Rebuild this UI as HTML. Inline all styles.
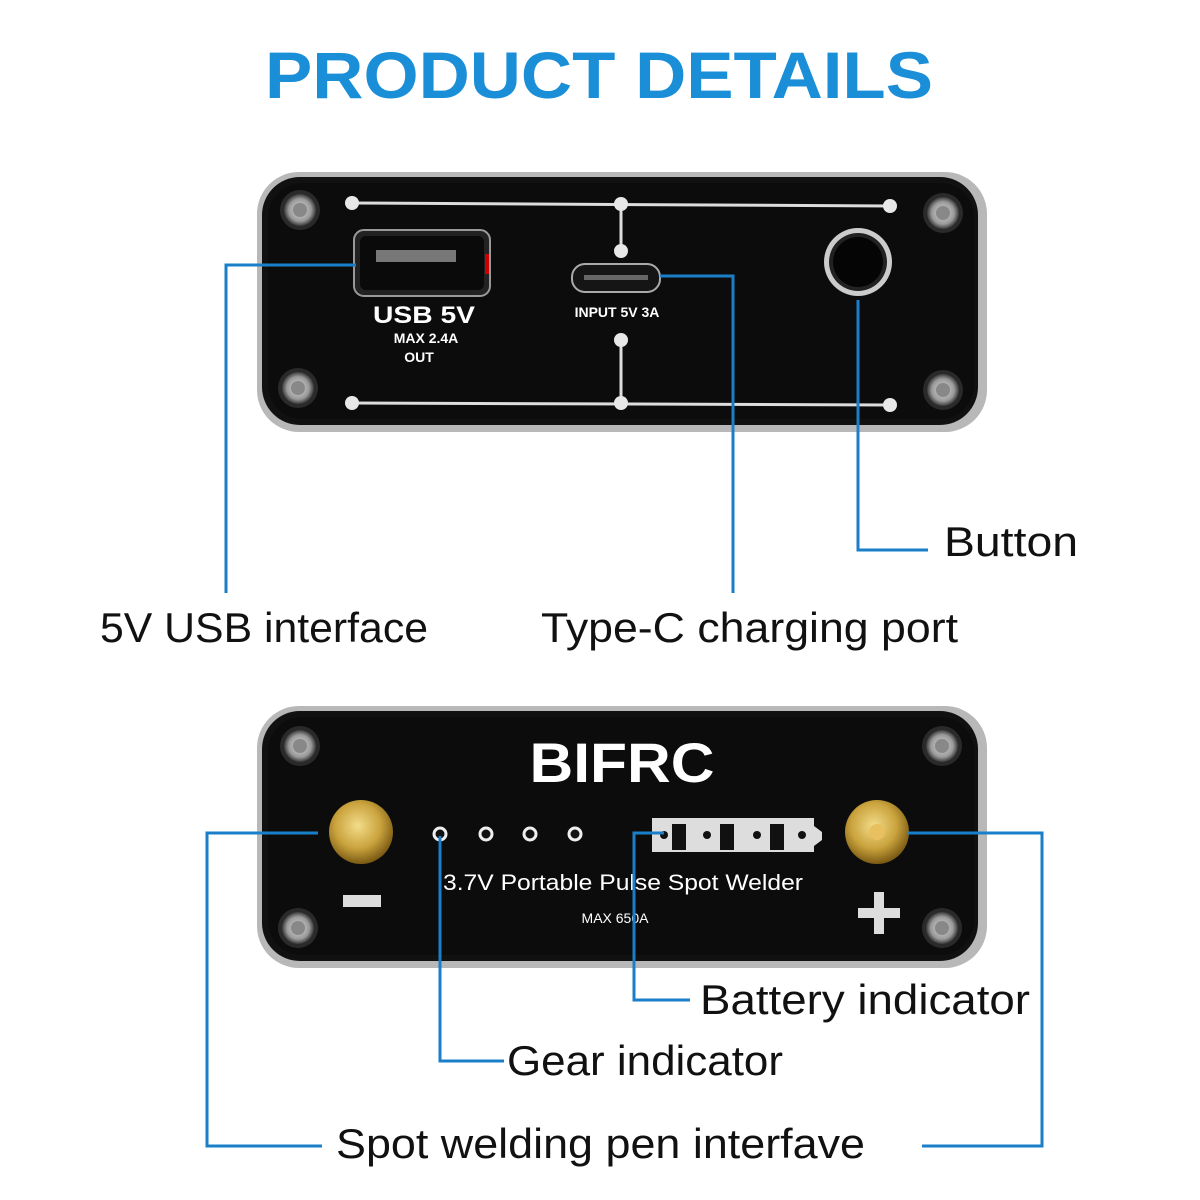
<!DOCTYPE html>
<html><head><meta charset="utf-8"><style>
html,body{margin:0;padding:0;background:#fff;}
svg{display:block;}
</style></head><body>
<svg width="1200" height="1200" viewBox="0 0 1200 1200" xmlns="http://www.w3.org/2000/svg" font-family="Liberation Sans, sans-serif">
<defs>
<radialGradient id="gold" cx="0.45" cy="0.4" r="0.6"><stop offset="0" stop-color="#f3dc8a"/><stop offset="0.6" stop-color="#c9a23c"/><stop offset="1" stop-color="#7a5a14"/></radialGradient>
<radialGradient id="screw" cx="0.5" cy="0.5" r="0.5"><stop offset="0" stop-color="#d8d8d8"/><stop offset="0.7" stop-color="#9a9a9a"/><stop offset="1" stop-color="#3a3a3a"/></radialGradient>
<g id="scr"><circle r="20" fill="#2a2a2a"/><circle r="16" fill="url(#screw)"/><circle r="7" fill="#888"/></g>
</defs>
<rect width="1200" height="1200" fill="#fff"/>
<text x="599" y="98" text-anchor="middle" font-size="66" font-weight="bold" fill="#1a8fd8" textLength="668" lengthAdjust="spacingAndGlyphs">PRODUCT DETAILS</text>

<!-- Device 1 -->
<rect x="257" y="172" width="730" height="260" rx="42" fill="#b8b8b8"/>
<rect x="262" y="177" width="716" height="248" rx="38" fill="#111"/>
<rect x="268" y="183" width="706" height="236" rx="34" fill="#0c0c0c"/>
<use href="#scr" x="300" y="210"/><use href="#scr" x="943" y="213"/>
<use href="#scr" x="298" y="388"/><use href="#scr" x="943" y="390"/>
<g stroke="#ddd" stroke-width="3"><line x1="352" y1="203" x2="890" y2="206"/><line x1="352" y1="403" x2="890" y2="405"/>
<line x1="621" y1="205" x2="621" y2="252"/><line x1="621" y1="340" x2="621" y2="403"/></g>
<g fill="#e8e8e8"><circle cx="352" cy="203" r="7"/><circle cx="621" cy="204" r="7"/><circle cx="890" cy="206" r="7"/><circle cx="621" cy="251" r="7"/><circle cx="621" cy="340" r="7"/><circle cx="352" cy="403" r="7"/><circle cx="621" cy="403" r="7"/><circle cx="890" cy="405" r="7"/></g>
<rect x="354" y="230" width="136" height="66" rx="10" fill="#222" stroke="#999" stroke-width="2"/>
<rect x="360" y="236" width="124" height="54" rx="6" fill="#0a0a0a"/>
<rect x="335" y="250" width="0" height="0"/>
<rect x="338" y="250" width="0" height="0"/>
<rect x="340" y="250" width="0" height="0"/>
<rect x="338" y="250" width="0" height="0"/>
<rect x="340" y="250" width="0" height="0"/>
<rect x="338" y="252" width="0" height="0"/>
<rect x="340" y="252" width="0" height="0"/>
<rect x="336" y="252" width="0" height="0"/>
<rect x="338" y="252" width="0" height="0"/>
<rect x="336" y="252" width="0" height="0"/>
<rect x="338" y="252" width="0" height="0"/>
<rect x="336" y="252" width="0" height="0"/>
<rect x="338" y="252" width="0" height="0"/>
<rect x="336" y="252" width="0" height="0"/>
<rect x="338" y="252" width="0" height="0"/>
<rect x="336" y="252" width="0" height="0"/>
<rect x="338" y="252" width="0" height="0"/>
<rect x="336" y="252" width="0" height="0"/>
<rect x="338" y="252" width="0" height="0"/>
<rect x="336" y="252" width="0" height="0"/>
<rect x="338" y="252" width="0" height="0"/>
<rect x="336" y="252" width="0" height="0"/>
<rect x="338" y="252" width="0" height="0"/>
<rect x="336" y="252" width="0" height="0"/>
<rect x="338" y="252" width="0" height="0"/>
<rect x="336" y="252" width="0" height="0"/>
<rect x="338" y="252" width="0" height="0"/>
<rect x="336" y="252" width="0" height="0"/>
<rect x="338" y="252" width="0" height="0"/>
<rect x="376" y="250" width="80" height="12" fill="#777"/>
<rect x="485" y="254" width="4" height="20" fill="#c00"/>
<text x="424" y="323" text-anchor="middle" font-size="24" font-weight="bold" fill="#fff" textLength="102" lengthAdjust="spacingAndGlyphs">USB 5V</text>
<text x="426" y="343" text-anchor="middle" font-size="14" font-weight="bold" fill="#fff">MAX 2.4A</text>
<text x="419" y="362" text-anchor="middle" font-size="14" font-weight="bold" fill="#fff">OUT</text>
<rect x="572" y="264" width="88" height="28" rx="13" fill="#151515" stroke="#aaa" stroke-width="2"/>
<rect x="584" y="275" width="64" height="5" fill="#666"/>
<text x="617" y="317" text-anchor="middle" font-size="14" font-weight="bold" fill="#fff">INPUT  5V 3A</text>
<circle cx="858" cy="262" r="34" fill="#ccc"/><circle cx="858" cy="262" r="29" fill="#222"/><circle cx="858" cy="262" r="25" fill="#050505"/>

<!-- Device 2 -->
<rect x="257" y="706" width="730" height="262" rx="42" fill="#b8b8b8"/>
<rect x="262" y="711" width="716" height="250" rx="38" fill="#111"/>
<rect x="268" y="717" width="706" height="238" rx="34" fill="#0c0c0c"/>
<use href="#scr" x="300" y="746"/><use href="#scr" x="942" y="746"/>
<use href="#scr" x="298" y="928"/><use href="#scr" x="942" y="928"/>
<text x="622" y="782" text-anchor="middle" font-size="56" font-weight="bold" fill="#fff" textLength="185" lengthAdjust="spacingAndGlyphs">BIFRC</text>
<circle cx="361" cy="832" r="32" fill="url(#gold)"/>
<circle cx="877" cy="832" r="32" fill="url(#gold)"/><circle cx="877" cy="832" r="8" fill="#e8c060"/>
<g fill="#111" stroke="#eee" stroke-width="3"><circle cx="440" cy="834" r="6"/><circle cx="486" cy="834" r="6"/><circle cx="530" cy="834" r="6"/><circle cx="575" cy="834" r="6"/></g>
<path d="M652,818 H814 V826 L822,832 V840 L814,846 V852 H652 Z" fill="#ddd"/>
<g fill="#111"><rect x="672" y="824" width="14" height="26"/><rect x="720" y="824" width="14" height="26"/><rect x="770" y="824" width="14" height="26"/>
<circle cx="664" cy="835" r="4"/><circle cx="707" cy="835" r="4"/><circle cx="757" cy="835" r="4"/><circle cx="802" cy="835" r="4"/></g>
<text x="443" y="890" font-size="22" fill="#fff" textLength="360" lengthAdjust="spacingAndGlyphs">3.7V Portable Pulse Spot Welder</text>
<text x="615" y="923" text-anchor="middle" font-size="14" fill="#fff">MAX 650A</text>
<rect x="343" y="895" width="38" height="12" fill="#ddd"/>
<rect x="858" y="908" width="42" height="10" fill="#ddd"/><rect x="874" y="892" width="10" height="42" fill="#ddd"/>

<!-- connectors -->
<g stroke="#1a7fc8" stroke-width="3" fill="none">
<polyline points="356,265 226,265 226,593"/>
<polyline points="660,276 733,276 733,593"/>
<polyline points="858,300 858,550 928,550"/>
<polyline points="318,833 207,833 207,1146 322,1146"/>
<polyline points="908,833 1042,833 1042,1146 922,1146"/>
<polyline points="440,836 440,1061 504,1061"/>
<polyline points="664,833 634,833 634,1000 690,1000"/>
</g>
<g font-size="42" fill="#111">
<text x="100" y="642" textLength="328" lengthAdjust="spacingAndGlyphs">5V USB interface</text>
<text x="541" y="642" textLength="417" lengthAdjust="spacingAndGlyphs">Type-C charging port</text>
<text x="944" y="556" textLength="134" lengthAdjust="spacingAndGlyphs">Button</text>
<text x="700" y="1014" textLength="330" lengthAdjust="spacingAndGlyphs">Battery indicator</text>
<text x="507" y="1075" textLength="276" lengthAdjust="spacingAndGlyphs">Gear indicator</text>
<text x="336" y="1158" textLength="529" lengthAdjust="spacingAndGlyphs">Spot welding pen interfave</text>
</g>
</svg>
</body></html>
